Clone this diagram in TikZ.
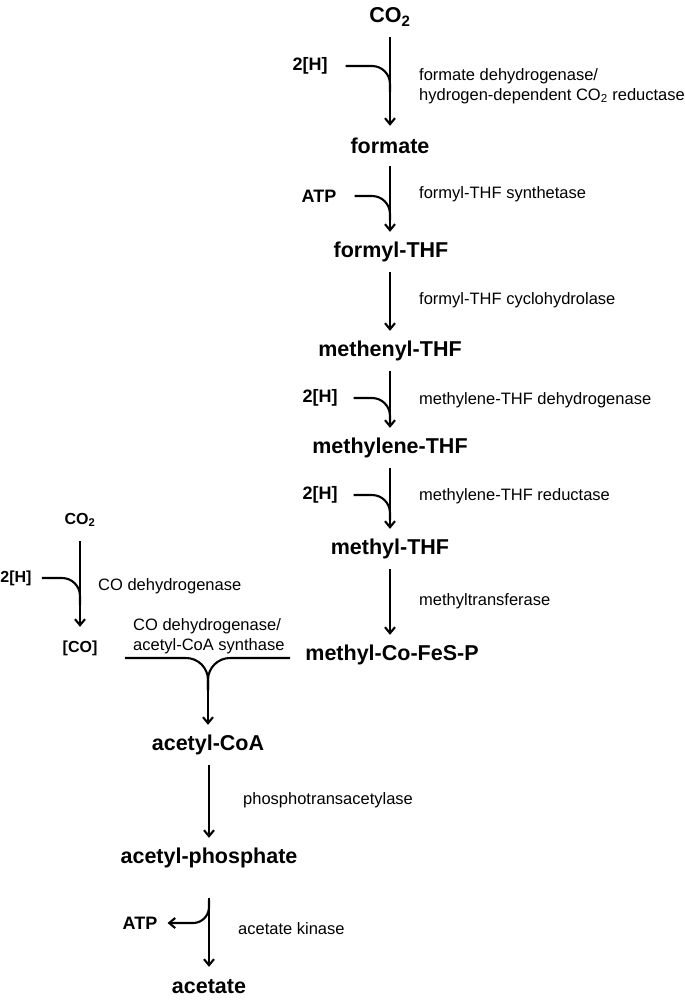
\documentclass[tikz,border=0pt]{standalone}
\usepackage{fontspec}
\setmainfont{Liberation Sans}
\usetikzlibrary{arrows.meta}

\begin{document}
\begin{tikzpicture}[x = 1pt, y = 1pt]
        \tikzset{Met/.style  = {font = \fontsize{21.5}{24}\selectfont\bfseries,
            inner sep  = 0pt,
            minimum height = 40pt},
          SMet/.style = {font = \fontsize{16}{19}\selectfont\bfseries,
            inner sep  = 0pt,
            minimum height = 42pt},
          Cof/.style  = {font = \fontsize{18}{20}\selectfont\bfseries,
            inner sep  = 0pt},
          Enz/.style  = {font = \fontsize{16.5}{20}\selectfont,
            anchor = west, align = left, inner sep = 0pt},
          Rxn/.style  = {line width = 2.1pt,
            -{Straight Barb[length = 6pt, width = 10pt]}},
          Join/.style = {line width = 2.1pt, rounded corners = 18pt}}
        \useasboundingbox (0,0) rectangle (685,-1002);
        \node[Met] (CO2) at (390,-17) {CO\textsubscript{2}};
        \node[Met] (Formate) at (390,-146) {formate};
        \node[Met] (FTHF) at (391,-252) {formyl-THF};
        \node[Met] (MenTHF) at (390,-351) {methenyl-THF};
        \node[Met] (MleTHF) at (390,-448) {methylene-THF};
        \node[Met] (MTHF) at (390,-549) {methyl-THF};
        \node[Met] (MCoFeS) at (392,-655) {methyl-Co-FeS-P};
        \node[SMet] (CO2b) at (80,-520) {CO\textsubscript{2}};
        \node[SMet] (CO) at (80,-648) {[CO]};
        \node[Met] (ACoA) at (208,-745) {acetyl-CoA};
        \node[Met] (AcP) at (209,-858) {acetyl-phosphate};
        \node[Met] (Acetate) at (209,-987) {acetate};
        \node[Cof] (Ha) at (310,-66) {2[H]};
        \node[Cof] (ATPa) at (319,-196) {ATP};
        \node[Cof] (Hb) at (320,-398) {2[H]};
        \node[Cof] (Hc) at (320,-495) {2[H]};
        \node[Cof, font = \fontsize{16}{19}\selectfont\bfseries] (Hd) at (16,-578) {2[H]};
        \node[Cof] (ATPb) at (140,-923) {ATP};
        \node[Enz] (Ea) at (419,-86) {formate dehydrogenase/\\hydrogen-dependent CO\textsubscript{2} reductase};
        \node[Enz] (Eb) at (419,-194) {formyl-THF synthetase};
        \node[Enz] (Ec) at (419,-300) {formyl-THF cyclohydrolase};
        \node[Enz] (Ed) at (419,-400) {methylene-THF dehydrogenase};
        \node[Enz] (Ee) at (419,-496) {methylene-THF reductase};
        \node[Enz] (Ef) at (419,-601) {methyltransferase};
        \node[Enz] (Eg) at (98,-586) {CO dehydrogenase};
        \node[Enz] (Eh) at (133,-636) {CO dehydrogenase/\\acetyl-CoA synthase};
        \node[Enz] (Ei) at (243,-800) {phosphotransacetylase};
        \node[Enz] (Ej) at (238,-929) {acetate kinase};
        \coordinate (Ja) at (390,-92);
        \coordinate (Jb) at (390,-220);
        \coordinate (Jc) at (390,-424);
        \coordinate (Jd) at (390,-520);
        \coordinate (Je) at (80,-605);
        \coordinate (Jf) at (209,-900);
        \coordinate (Lstart) at (125,-658);
        \coordinate (Rstart) at (290,-658);
        \coordinate (Merge) at (208,-690);
        \draw[Rxn] (CO2) -- (Formate);
        \draw[Rxn] (Formate.south) -- (Formate.south |- FTHF.north);
        \draw[Rxn] (FTHF.south -| MenTHF) -- (MenTHF);
        \draw[Rxn] (MenTHF) -- (MleTHF);
        \draw[Rxn] (MleTHF) -- (MTHF);
        \draw[Rxn] (MTHF.south) -- (MTHF.south |- MCoFeS.north);
        \draw[Rxn] (CO2b) -- (CO);
        \draw[Rxn] (ACoA.south -| AcP) -- (AcP);
        \draw[Rxn, shorten <= 20pt] (AcP) -- (Acetate);
        \draw[Join] ([xshift = 18pt]Ha.east) -| (Ja);
        \draw[Join] ([xshift = 18pt]ATPa.east) -| (Jb);
        \draw[Join] ([xshift = 16pt]Hb.east) -| (Jc);
        \draw[Join] ([xshift = 16pt]Hc.east) -| (Jd);
        \draw[Join] ([xshift = 10pt]Hd.east) -| (Je);
        \draw[Join, rounded corners = 22pt] (Lstart) -| (Merge);
        \draw[Join, rounded corners = 22pt] (Rstart) -| (Merge);
        \draw[Rxn] (Merge) -- (ACoA);
        \draw[Rxn, rounded corners = 16pt] (Jf) |- ([xshift = 10pt]ATPb.east);
      \end{tikzpicture}
\end{document}
